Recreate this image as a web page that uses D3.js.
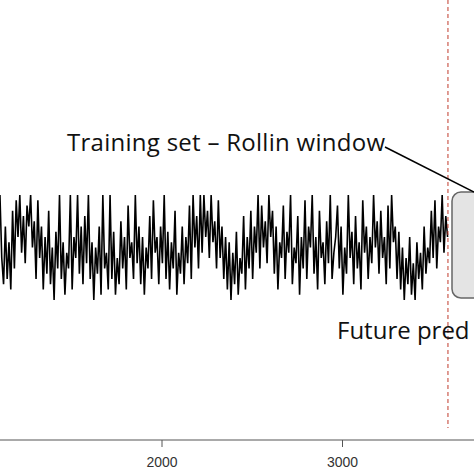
<!DOCTYPE html>
<html lang="en">
<head>
<meta charset="UTF-8">
<script src="https://d3js.org/d3.v7.min.js"></script>
<style>
  body { margin: 0; background: #fff; }
  svg { display: block; }
</style>
</head>
<body>
<div id="chart"></div>
<script>
const width = 474, height = 474;

// series sampled every 10 steps, starting at t=1105 (0 = low, 100 = high)
const startT = 1105, stepT = 10;
const series = [
  100, 40, 15, 70, 20, 55, 10, 85, 30, 95, 60, 100, 45, 80, 35, 90, 70, 100, 50, 75,
  20, 95, 40, 70, 10, 60, 25, 85, 15, 50, 0, 65, 30, 100, 20, 55, 5, 45, 30, 100,
  10, 60, 40, 100, 25, 70, 15, 80, 35, 100, 20, 55, 0, 50, 25, 70, 5, 100, 30, 45,
  10, 100, 20, 65, 5, 40, 15, 75, 30, 60, 10, 90, 40, 55, 20, 100, 35, 70, 15, 60,
  5, 50, 30, 80, 20, 95, 45, 60, 15, 70, 35, 100, 20, 65, 10, 55, 30, 85, 5, 45,
  25, 70, 15, 60, 35, 90, 20, 100, 50, 80, 30, 100, 45, 100, 60, 85, 40, 100, 55, 75,
  30, 95, 40, 70, 20, 60, 10, 55, 0, 45, 15, 65, 5, 40, 25, 80, 10, 60, 30, 85,
  20, 70, 45, 100, 30, 90, 50, 75, 35, 100, 60, 85, 25, 70, 10, 55, 40, 90, 20, 65,
  45, 100, 15, 50, 35, 80, 5, 60, 30, 95, 20, 70, 50, 100, 25, 60, 10, 85, 40, 55,
  15, 75, 35, 100, 20, 45, 60, 90, 30, 70, 5, 50, 25, 100, 40, 65, 15, 80, 30, 55,
  10, 95, 45, 70, 20, 60, 35, 100, 50, 75, 25, 85, 40, 60, 15, 90, 30, 100, 55, 70,
  20, 65, 10, 50, 0, 40, 15, 60, 5, 35, 0, 55, 20, 45, 10, 70, 25, 50, 35, 85,
  40, 95, 30, 70, 55, 100, 45, 80, 60, 100, 35, 75, 50, 90
];
const splitT = 3587;
const ticks = [2000, 3000];
const trainLabel = "Training set \u2013 Rollin window";
const futureLabel = "Future pred";

const svg = d3.select("#chart").append("svg")
  .attr("width", width).attr("height", height);

const x = d3.scaleLinear().domain([2000, 3000]).range([161.5, 342]);
const y = d3.scaleLinear().domain([0, 100]).range([300, 195]);

const pts = series.map((v, i) => [startT + i * stepT, v]).filter(d => d[0] <= splitT);

svg.append("path")
  .datum(pts)
  .attr("fill", "none")
  .attr("stroke", "#000")
  .attr("stroke-width", 1.6)
  .attr("d", d3.line().x(d => x(d[0])).y(d => y(d[1])));

// axis
const axis = svg.append("g").attr("transform", "translate(0,440)")
  .call(d3.axisBottom(x).tickValues(ticks).tickSize(7).tickPadding(10).tickFormat(d3.format("d")));
axis.select(".domain").attr("d", `M0,0H${width}`).attr("stroke", "#555");
axis.selectAll(".tick line").attr("stroke", "#555");
axis.selectAll("text").attr("font-family", "Liberation Sans, Arial").attr("font-size", 14).attr("fill", "#333");

// split line
svg.append("line")
  .attr("x1", x(splitT)).attr("x2", x(splitT))
  .attr("y1", 0).attr("y2", 428)
  .attr("stroke", "#c0392b").attr("stroke-width", 1)
  .attr("stroke-dasharray", "4,3");

// prediction window box
svg.append("rect")
  .attr("x", 452).attr("y", 192).attr("width", 40).attr("height", 106)
  .attr("rx", 9).attr("fill", "#e4e4e4").attr("stroke", "#666").attr("stroke-width", 1.5);

// annotations
svg.append("text").attr("x", 67).attr("y", 151)
  .attr("font-family", "Open Sans, sans-serif").attr("font-size", 24).attr("fill", "#111")
  .attr("textLength", 318)
  .text(trainLabel);
svg.append("line").attr("x1", 385).attr("y1", 147).attr("x2", 474).attr("y2", 192)
  .attr("stroke", "#000").attr("stroke-width", 1.5);
svg.append("text").attr("x", 337).attr("y", 339)
  .attr("font-family", "Open Sans, sans-serif").attr("font-size", 24).attr("fill", "#111")
  .text(futureLabel);
</script>
</body>
</html>
